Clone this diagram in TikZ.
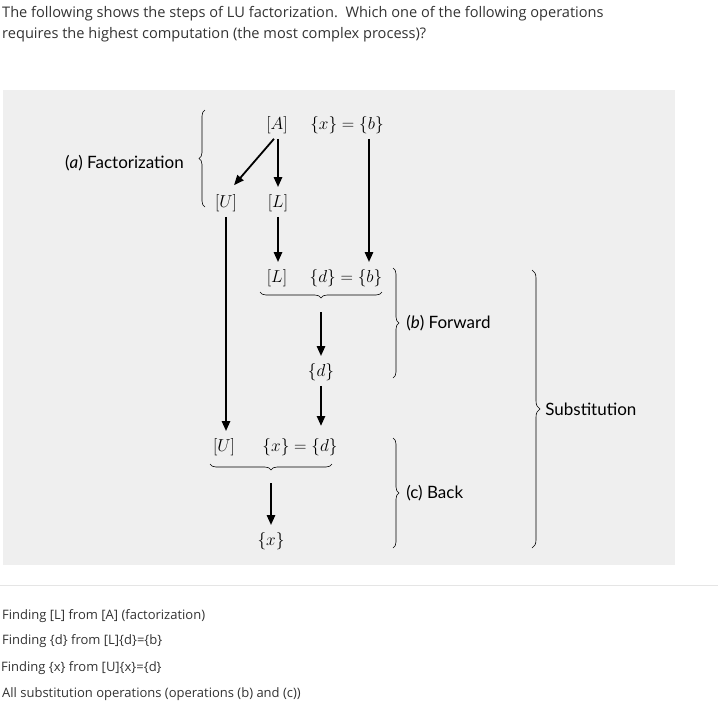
\documentclass[tikz,border=0pt]{standalone}
\usepackage{fontspec}
\setmainfont{Open Sans}
\newfontfamily\labfont{Lato}
\usepackage{amsmath}
\usetikzlibrary{arrows.meta, positioning, calc, decorations.pathreplacing}
\definecolor{panel}{HTML}{EFEFEF}
\definecolor{qtext}{HTML}{333333}
\tikzset{
  mth/.style={inner sep=1pt, font=\fontsize{17}{19}\selectfont},
  lab/.style={font=\labfont\fontsize{17}{19}\selectfont, inner sep=1pt},
  flow/.style={line width=2.4pt, -{Triangle[length=10pt,width=8pt]}},
  thin flow/.style={line width=1.8pt, -{Triangle[length=10pt,width=8pt]}},
  brc/.style={decorate, decoration={brace, amplitude=6pt}, line width=0.6pt},
  opt/.style={anchor=west, font=\fontsize{13}{15}\selectfont, text=qtext, inner sep=0pt}
}
\begin{document}
\begin{tikzpicture}[x=1pt,y=-1pt]
\useasboundingbox (0,0) rectangle (718,710);
\fill[white] (0,0) rectangle (718,710);
% question
\node[opt, font=\fontsize{14.6}{21}\selectfont, align=justify, text width=710pt, anchor=north west] (q) at (2,6)
  {The following shows the steps of LU factorization.\ \ Which one of the following operations\\ requires the highest computation (the most complex process)?};
% panel
\fill[panel] (3,90) rectangle (675,565);
\draw[black!10] (0,585) -- (718,585);

% factorization
\node[mth] (A) at (277,125) {$[A]$};
\node[mth] (xb) at (347,125) {$\{x\}=\{b\}$};
\node[mth] (U1) at (226,203) {$[U]$};
\node[mth] (L1) at (278,203) {$[L]$};
\draw[thin flow] ($(A.south)+(-3,4)$) -- ($(U1.north)+(8,-8)$);
\draw[flow] ($(A.south)+(1,4)$) -- ($(L1.north)+(0,-6)$);
\draw[brc] (205,207) -- (205,110);
\node[lab, anchor=east] (fact) at (185,163) {(\textit{a}) Factorization};

% forward
\node[mth] (L2) at (277,278) {$[L]$};
\node[mth] (db) at (346,278) {$\{d\}=\{b\}$};
\node[mth] (d) at (321,372) {$\{d\}$};
\draw[flow] ($(L1.south)+(0,4)$) -- ($(L2.north)+(1,-6)$);
\draw[flow] (xb.south -| 369,0) ++(0,4) coordinate (xbs) -- ($(db.north -| xbs)+(0,-6)$);
\draw[brc] (382,292) -- (260,292);
\draw[flow] (321,312) -- ($(d.north)+(0,-6)$);
\draw[flow] ($(d.south)+(0,4)$) -- (321,426);

% back
\node[mth] (U2) at (224,447) {$[U]$};
\node[mth] (xd) at (300,447) {$\{x\}=\{d\}$};
\node[mth] (x) at (271,541) {$\{x\}$};
\draw[flow] ($(U1.south)+(0,4)$) -- ($(U2.north)+(2,-6)$);
\draw[brc] (332,464) -- (210,464);
\draw[flow] (271,483) -- ($(x.north)+(0,-6)$);

% substitution braces
\draw[brc] (393,268) -- (393,378) node[midway, right=12pt, lab] (fwd) {(\textit{b}) Forward};
\draw[brc] (393,438) -- (393,548) node[midway, right=12pt, lab] (bck) {(c) Back};
\draw[brc, decoration={amplitude=8pt}] (532,270) -- (532,548) node[midway, right=12pt, lab] (sub) {Substitution};

% options
\node[opt] (o1) at (2,616) {Finding [L] from [A] (factorization)};
\node[opt] (o2) at (2,641) {Finding \{d\} from [L]\{d\}=\{b\}};
\node[opt] (o3) at (1,668) {Finding \{x\} from [U]\{x\}=\{d\}};
\node[opt] (o4) at (2,694) {All substitution operations (operations (b) and (c))};
\end{tikzpicture}
\end{document}
